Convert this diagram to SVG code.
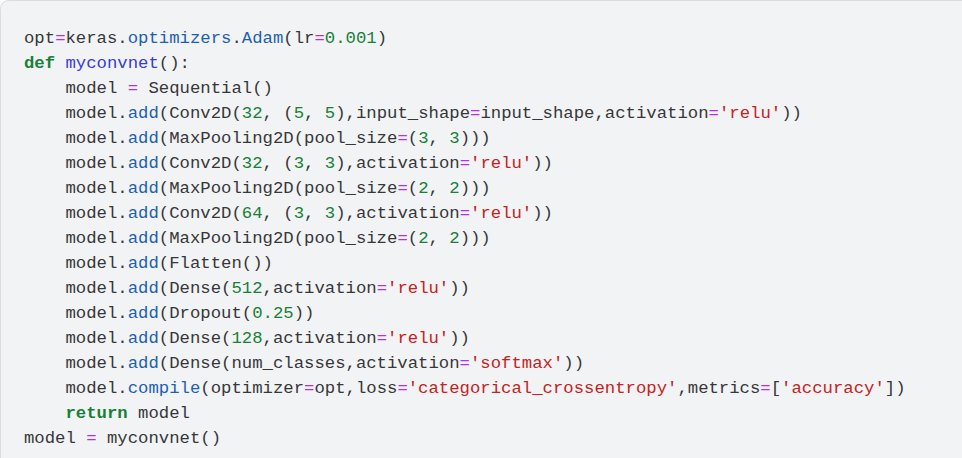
<svg xmlns="http://www.w3.org/2000/svg" width="962" height="458" viewBox="0 0 962 458">
<style>
text{font-family:"Liberation Mono","DejaVu Sans Mono",monospace;font-size:17.3px;fill:#37373a;white-space:pre}
.k{fill:#188038;font-weight:bold}.f{fill:#3b3bd6}.b{fill:#1e5fb0}.o{fill:#b62ff0}.n{fill:#188038}.s{fill:#c5221f}
</style>
<rect x="0.5" y="0.5" width="980" height="480" rx="8" fill="#f1f3f4" stroke="#dadce0"/>
<g id="code">
<text x="24" y="43">opt<tspan class="o">=</tspan>keras.<tspan class="b">optimizers</tspan>.<tspan class="b">Adam</tspan>(lr<tspan class="o">=</tspan><tspan class="n">0.001</tspan>)</text>
<text x="24" y="68"><tspan class="k">def</tspan> <tspan class="f">myconvnet</tspan>():</text>
<text x="24" y="93">    model <tspan class="o">=</tspan> Sequential()</text>
<text x="24" y="118">    model.<tspan class="b">add</tspan>(Conv2D(<tspan class="n">32</tspan>, (<tspan class="n">5</tspan>, <tspan class="n">5</tspan>),input_shape<tspan class="o">=</tspan>input_shape,activation<tspan class="o">=</tspan><tspan class="s">'relu'</tspan>))</text>
<text x="24" y="143">    model.<tspan class="b">add</tspan>(MaxPooling2D(pool_size<tspan class="o">=</tspan>(<tspan class="n">3</tspan>, <tspan class="n">3</tspan>)))</text>
<text x="24" y="168">    model.<tspan class="b">add</tspan>(Conv2D(<tspan class="n">32</tspan>, (<tspan class="n">3</tspan>, <tspan class="n">3</tspan>),activation<tspan class="o">=</tspan><tspan class="s">'relu'</tspan>))</text>
<text x="24" y="193">    model.<tspan class="b">add</tspan>(MaxPooling2D(pool_size<tspan class="o">=</tspan>(<tspan class="n">2</tspan>, <tspan class="n">2</tspan>)))</text>
<text x="24" y="218">    model.<tspan class="b">add</tspan>(Conv2D(<tspan class="n">64</tspan>, (<tspan class="n">3</tspan>, <tspan class="n">3</tspan>),activation<tspan class="o">=</tspan><tspan class="s">'relu'</tspan>))</text>
<text x="24" y="243">    model.<tspan class="b">add</tspan>(MaxPooling2D(pool_size<tspan class="o">=</tspan>(<tspan class="n">2</tspan>, <tspan class="n">2</tspan>)))</text>
<text x="24" y="268">    model.<tspan class="b">add</tspan>(Flatten())</text>
<text x="24" y="293">    model.<tspan class="b">add</tspan>(Dense(<tspan class="n">512</tspan>,activation<tspan class="o">=</tspan><tspan class="s">'relu'</tspan>))</text>
<text x="24" y="318">    model.<tspan class="b">add</tspan>(Dropout(<tspan class="n">0.25</tspan>))</text>
<text x="24" y="343">    model.<tspan class="b">add</tspan>(Dense(<tspan class="n">128</tspan>,activation<tspan class="o">=</tspan><tspan class="s">'relu'</tspan>))</text>
<text x="24" y="368">    model.<tspan class="b">add</tspan>(Dense(num_classes,activation<tspan class="o">=</tspan><tspan class="s">'softmax'</tspan>))</text>
<text x="24" y="393">    model.<tspan class="b">compile</tspan>(optimizer<tspan class="o">=</tspan>opt,loss<tspan class="o">=</tspan><tspan class="s">'categorical_crossentropy'</tspan>,metrics<tspan class="o">=</tspan>[<tspan class="s">'accuracy'</tspan>])</text>
<text x="24" y="418">    <tspan class="k">return</tspan> model</text>
<text x="24" y="443">model <tspan class="o">=</tspan> myconvnet()</text>
</g>
</svg>
